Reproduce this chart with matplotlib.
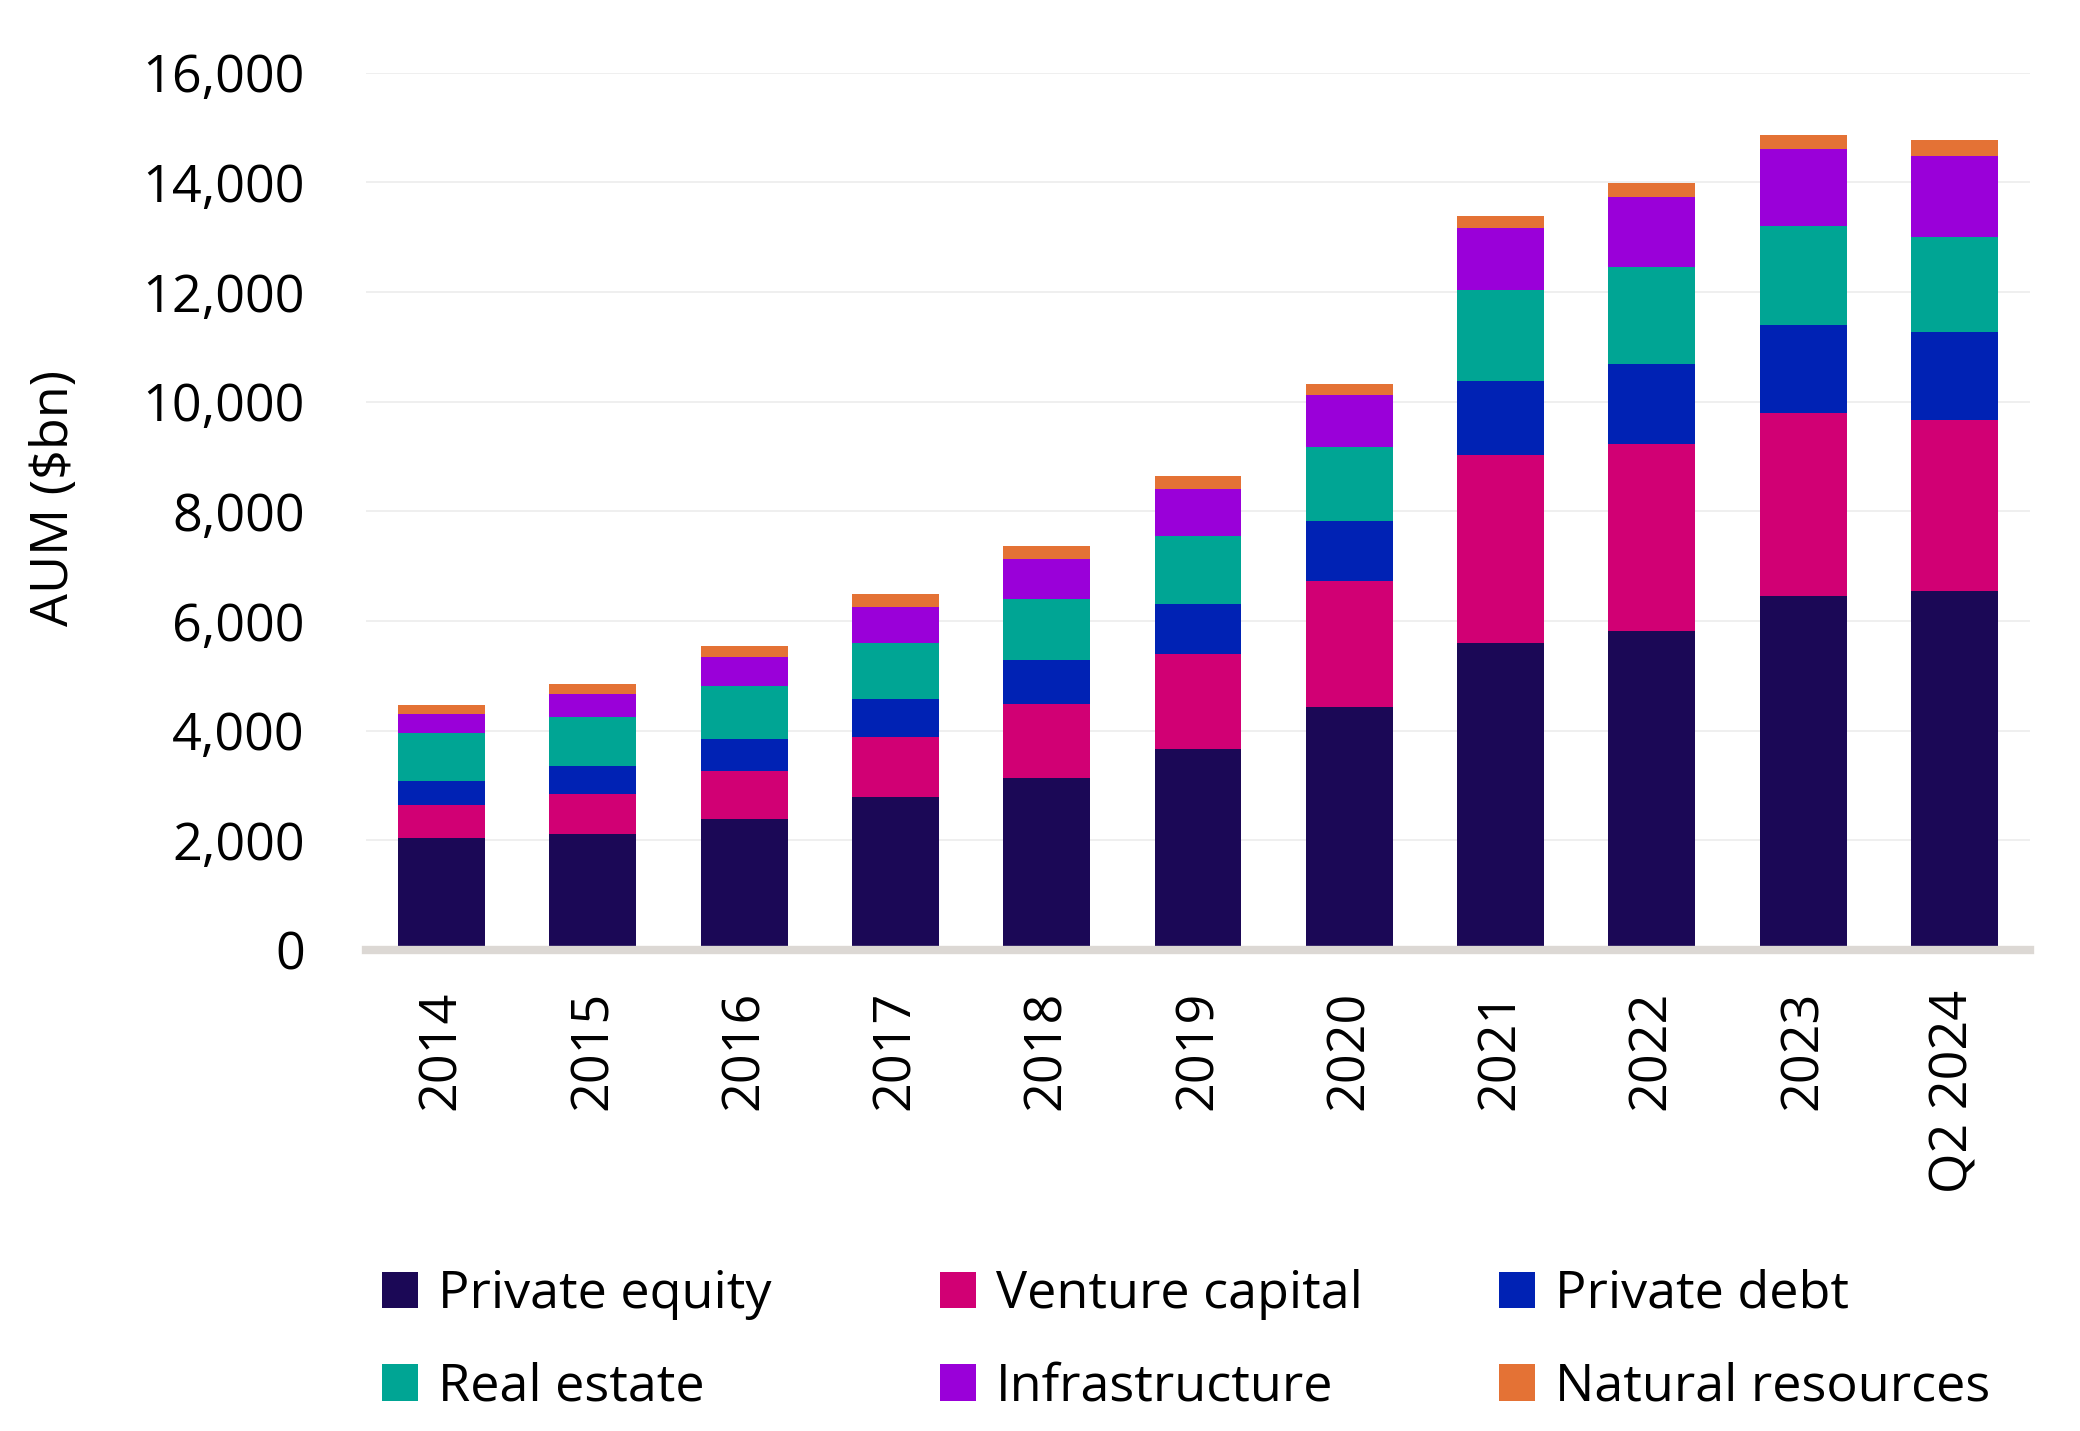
import matplotlib
matplotlib.use("Agg")
import matplotlib.pyplot as plt
from matplotlib.patches import Patch
from matplotlib.ticker import FuncFormatter
import numpy as np

categories = ["2014", "2015", "2016", "2017", "2018", "2019", "2020",
              "2021", "2022", "2023", "Q2 2024"]
private_equity = [2047, 2116, 2395, 2791, 3140, 3663, 4430, 5593, 5814, 6465, 6547]
venture_capital = [593, 721, 861, 1093, 1348, 1744, 2303, 3442, 3419, 3326, 3127]
private_debt = [441, 523, 593, 697, 803, 895, 1093, 1337, 1453, 1616, 1593]
real_estate = [872, 896, 965, 1024, 1104, 1245, 1348, 1663, 1767, 1802, 1733]
infrastructure = [349, 418, 523, 651, 733, 860, 954, 1128, 1280, 1396, 1477]
natural_resources = [175, 175, 210, 244, 244, 244, 198, 232, 255, 267, 290]

series_names = ["Private equity", "Venture capital", "Private debt",
                "Real estate", "Infrastructure", "Natural resources"]
series_values = [private_equity, venture_capital, private_debt,
                 real_estate, infrastructure, natural_resources]
colors = ["#1b0856", "#d10074", "#0022b4", "#00a594", "#9a00d9", "#e47235"]

yticks = [0, 2000, 4000, 6000, 8000, 10000, 12000, 14000, 16000]

plt.rcParams['font.family'] = ['Open Sans', 'DejaVu Sans']
FS = 37.5

W, H = 2080, 1431
fig = plt.figure(figsize=(W / 100, H / 100), dpi=100)
ax = fig.add_axes([366 / W, 1 - 950 / H, (2030 - 366) / W, (950 - 72.7) / H])

x = np.arange(len(categories))
bottom = np.zeros(len(categories))
for name, vals, c in zip(series_names, series_values, colors):
    v = np.array(vals, dtype=float)
    ax.bar(x, v, width=0.575, bottom=bottom, color=c, label=name, zorder=2,
           linewidth=0)
    bottom += v

ax.set_xlim(-0.5, len(categories) - 0.5)
ax.set_ylim(0, 16000)
ax.set_yticks(yticks)
ax.yaxis.set_major_formatter(FuncFormatter(lambda v, p: f"{int(v):,}"))
ax.set_xticks(x)
ax.set_xticklabels(categories, rotation=90, fontsize=FS, va='top', ha='center')
ax.tick_params(axis='y', labelsize=FS, length=0, pad=44)
ax.tick_params(axis='x', length=0, pad=29)
for s in ax.spines.values():
    s.set_visible(False)
ax.grid(axis='y', color='#efefef', linewidth=1.4, zorder=0)
ax.set_axisbelow(True)
ax.axhline(0, color='#dcd8d4', linewidth=6, zorder=3, clip_on=False)
ax.set_ylabel("AUM ($bn)", fontsize=FS)
ax.yaxis.set_label_coords((80 - 366) / 1664, (950 - 498) / 877.3)

# legend: three columns of two entries
col_x = [382, 940, 1499]
order = [[0, 3], [1, 4], [2, 5]]
for cx, idxs in zip(col_x, order):
    handles = [Patch(facecolor=colors[i], edgecolor='none') for i in idxs]
    labels = [series_names[i] for i in idxs]
    leg = fig.legend(handles, labels, loc='upper left',
                     bbox_to_anchor=(cx / W, 1 - 1269 / H),
                     frameon=False, fontsize=FS, borderpad=0, borderaxespad=0,
                     handlelength=0.7, handleheight=0.7, handletextpad=0.37,
                     labelspacing=0.8)

fig.savefig("out.png", dpi=100, facecolor='white')
